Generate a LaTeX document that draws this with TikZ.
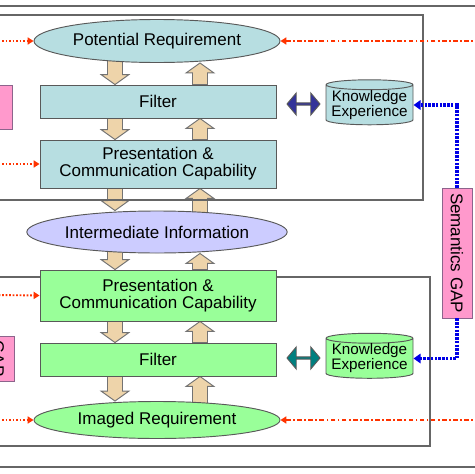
\documentclass[tikz,border=0pt]{standalone}
\usepackage{fontspec}
\setmainfont{Liberation Sans}
\usepackage{tikz}
\usetikzlibrary{positioning,arrows.meta,shapes.geometric,shapes.arrows,calc,backgrounds}
\newcommand{\px}{0.03cm}
\definecolor{cyanfill}{RGB}{183,222,225}
\definecolor{lavfill}{RGB}{204,204,255}
\definecolor{grnfill}{RGB}{153,255,153}
\definecolor{tanfill}{RGB}{238,212,170}
\definecolor{gappink}{RGB}{255,153,204}
\definecolor{gapedge}{RGB}{140,100,140}
\definecolor{kbblue}{RGB}{51,51,153}
\definecolor{kbteal}{RGB}{0,128,128}
\definecolor{redline}{RGB}{255,51,0}
\definecolor{blueline}{RGB}{0,0,230}
% vertical block arrows, #1 tail, #2 tip
\newcommand{\dnarr}[2]{%
  \draw[blk] let \p1=(#1),\p2=(#2) in
    (\x1-6.4pt,\y1) -- (\x1-6.4pt,\y2+8.5pt) -- (\x1-11.9pt,\y2+8.5pt) -- (\x1,\y2)
    -- (\x1+11.9pt,\y2+8.5pt) -- (\x1+6.4pt,\y2+8.5pt) -- (\x1+6.4pt,\y1) -- cycle;}
\newcommand{\uparr}[2]{%
  \draw[blk] let \p1=(#1),\p2=(#2) in
    (\x1-6.4pt,\y1) -- (\x1-6.4pt,\y2-8.5pt) -- (\x1-11.9pt,\y2-8.5pt) -- (\x1,\y2)
    -- (\x1+11.9pt,\y2-8.5pt) -- (\x1+6.4pt,\y2-8.5pt) -- (\x1+6.4pt,\y1) -- cycle;}
\begin{document}
\begin{tikzpicture}[x=\px,y=-\px,
  font=\fontsize{14.5}{14.5}\selectfont,
  box/.style={draw=black!65,line width=0.8pt,minimum width=236*\px,align=center,inner sep=0pt},
  oval/.style={ellipse,draw=black!65,line width=0.8pt,minimum width=246*\px,inner sep=0pt},
  kbase/.style={cylinder,shape border rotate=90,aspect=0.13,draw=black!65,line width=0.8pt,
    minimum width=87*\px,minimum height=45*\px,align=center,inner sep=0pt,
    font=\fontsize{13}{12.75}\selectfont},
  darr/.style={double arrow,draw=black!65,line width=0.8pt,minimum height=33*\px,
    minimum width=22*\px,double arrow head extend=4.5*\px,double arrow tip angle=100,inner sep=0pt},
  gapbox/.style={draw=gapedge,fill=gappink,line width=0.8pt,inner sep=0pt},
  frame/.style={draw=black!60,line width=1pt},
  blk/.style={draw=black!55,fill=tanfill,line width=0.8pt},
  reddot/.style={draw=redline,line width=1.6pt,dash pattern=on 1.5pt off 1.5pt,
    -{Triangle[width=6pt,length=5pt]}},
  reddash/.style={draw=redline,line width=1.6pt,dash pattern=on 4pt off 2pt on 1.5pt off 2pt,
    -{Triangle[width=6pt,length=5pt]}},
  bluedot/.style={draw=blueline,line width=3pt,dash pattern=on 2pt off 1.2pt,
    -{Triangle[width=8pt,length=6pt]}}
]
\useasboundingbox (0,0) rectangle (474,474);
\draw[frame] (-5,6) -- (480,6);
\draw[frame] (-5,467) -- (480,467);
\draw[frame] (-5,15) rectangle (423,200);
\draw[frame] (-5,277) rectangle (430,446);

\node[oval,fill=cyanfill,minimum height=43*\px] (pr) at (157,41) {Potential Requirement};
\node[box,fill=cyanfill,minimum height=33*\px] (filt1) at (158,101.5) {Filter};
\node[box,fill=cyanfill,minimum height=48*\px] (pc1) at (158,164) {Presentation \&\\Communication Capability};
\node[oval,fill=lavfill,minimum height=42*\px] (ii) at (157,232) {Intermediate Information};
\node[box,fill=grnfill,minimum height=51*\px] (pc2) at (158,295.5) {Presentation \&\\Communication Capability};
\node[box,fill=grnfill,minimum height=33*\px] (filt2) at (158,359.5) {Filter};
\node[oval,fill=grnfill,minimum height=37*\px] (ir) at (157,420) {Imaged Requirement};

\node[kbase,fill=cyanfill] (kb1) at (369.5,105) {Knowledge\\Experience};
\node[kbase,fill=grnfill] (kb2) at (369.5,358.5) {Knowledge\\Experience};
\node[darr,fill=kbblue] (link1) at (303.5,104) {};
\node[darr,fill=kbteal] (link2) at (303.5,358) {};

\node[gapbox,rotate=-90,minimum width=130*\px,minimum height=30*\px] (gap) at (457,253) {Semantics GAP};
\node[gapbox,minimum width=44*\px,minimum height=44*\px] (gapL1) at (-10,107) {};
\node[gapbox,rotate=-90,minimum width=45*\px,minimum height=32*\px] (gapL2) at (-2,358.5) {GAP};

\coordinate (dnx) at (115,0);
\coordinate (upx) at (200,0);
\begin{scope}[on background layer]
  \dnarr{pr.center -| dnx}{filt1.north -| dnx}
  \uparr{filt1.north -| upx}{pr.south -| upx}
  \dnarr{filt1.south -| dnx}{pc1.north -| dnx}
  \uparr{pc1.north -| upx}{filt1.south -| upx}
  \dnarr{pc1.south -| dnx}{ii.north -| dnx}
  \uparr{ii.center -| upx}{pc1.south -| upx}
  \dnarr{ii.center -| dnx}{pc2.north -| dnx}
  \uparr{pc2.north -| upx}{ii.south -| upx}
  \dnarr{pc2.south -| dnx}{filt2.north -| dnx}
  \uparr{filt2.north -| upx}{pc2.south -| upx}
  \dnarr{filt2.south -| dnx}{ir.north -| dnx}
  \uparr{ir.center -| upx}{filt2.south -| upx}
\end{scope}

\coordinate (inPR) at (-5,41);
\coordinate (inPC1) at (-5,164);
\coordinate (inPC2) at (-5,295);
\coordinate (inIR) at (-5,420);
\coordinate (outPR) at (480,41);
\coordinate (outIR) at (480,420);
\draw[reddot] (inPR) -- (pr.west);
\draw[reddot] (inPC1) -- (pc1.west);
\draw[reddot] (inPC2) -- (pc2.west);
\draw[reddot] (inIR) -- (ir.west);
\draw[reddash] (outPR) -- (pr.east);
\draw[reddash] (outIR) -- (ir.east);
\draw[bluedot] (gap.west) |- (kb1.east);
\draw[bluedot] (gap.east) |- (kb2.east);
\end{tikzpicture}
\end{document}
